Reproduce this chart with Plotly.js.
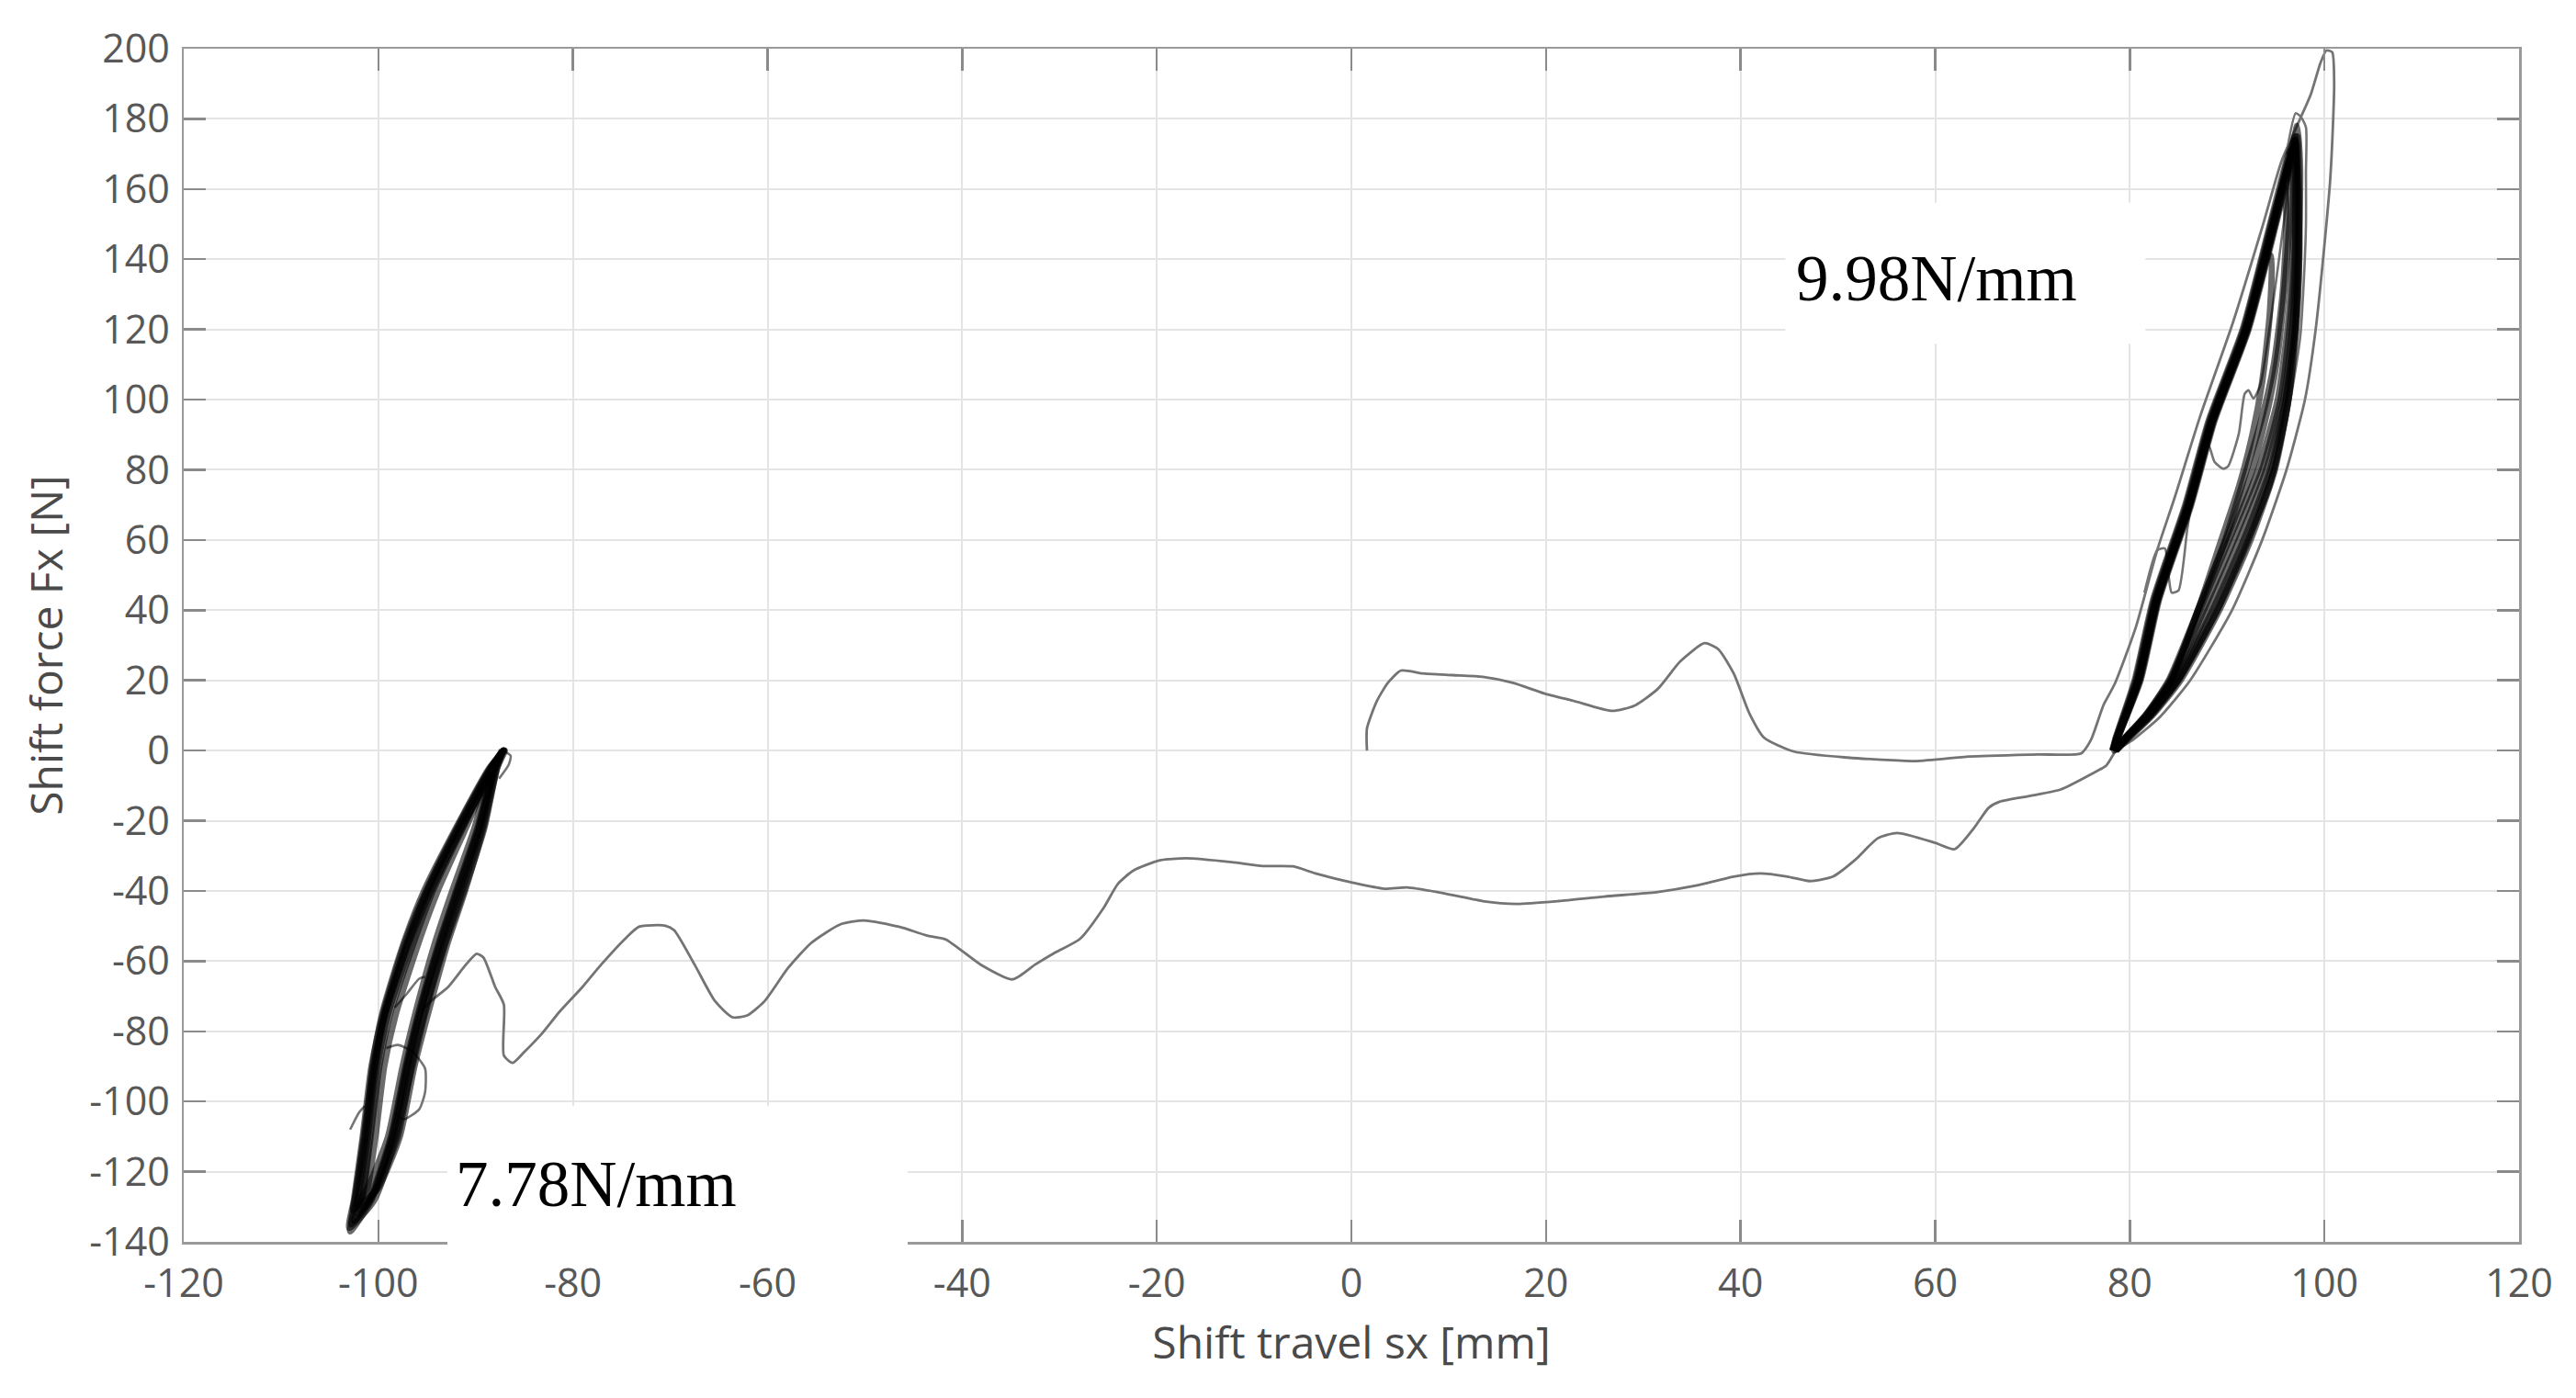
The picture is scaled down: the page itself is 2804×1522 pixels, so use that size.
<!DOCTYPE html>
<html><head><meta charset="utf-8">
<script src="https://cdn.plot.ly/plotly-3.0.1.min.js"></script>
<style>html,body{margin:0;padding:0;background:#fff;}#chart{width:2804px;height:1522px;}</style>
</head><body><div id="chart"></div>
<script>
// ---------- axis ticks ----------
const xTicks = [-120,-100,-80,-60,-40,-20,0,20,40,60,80,100,120];
const yTicks = [-140,-120,-100,-80,-60,-40,-20,0,20,40,60,80,100,120,140,160,180,200];

// ---------- single gray path: start near origin, outer right loop, return, to left cluster ----------
const pathX = [1.6,1.6,2.6,3.75,5.1,7.3,10.4,13.5,16.6,19.8,22.9,26.8,29.1,31.5,33.8,36.3,37.7,39.3,40.9,42.4,45.5,51,58,63.5,70.5,75,76,77.3,78.45,80.6,82.8,84.6,87.2,90.6,93.7,95.6,97.5,98.6,99.6,100.2,100.8,101.0,100.9,100.6,100.2,99.1,98.0,96.1,93.6,90.5,86.2,83.1,80.3,78.6,77.6,76,72.9,69.8,66.6,65.5,63.9,62,60,56.1,54.1,51.8,49.5,47.1,44.8,42,39.3,35.4,31.5,26,21.3,17,13.5,8.8,5.7,3.4,0.2,-3.7,-6,-9.1,-12.3,-17,-19.7,-22.4,-24,-25.5,-27.9,-30.4,-32.5,-34.8,-38.1,-41.7,-43.5,-46.5,-50.1,-52.5,-55.5,-57.9,-60.3,-62.1,-63.6,-65.4,-67.5,-69.6,-70.5,-73.2,-74.7,-77.1,-79,-81.4,-83.2,-85,-86.2,-87.1,-87.1,-88,-89.2,-89.9,-91,-92.8,-94.6,-95.5];
const pathY = [0,6.3,14,19.3,22.8,22,21.5,21,19.3,16.3,14.1,11.3,12.8,17.6,25.4,30.6,28.9,21.9,10.6,3.7,-0.3,-2,-3,-1.7,-1.1,-0.8,3,13,19,35,57,72,95,122,150,168,180,187,196,199.5,199,190,180,163,150,120,100,80,60,40,20,9.6,3,0,-4.2,-6.8,-11.1,-12.9,-14.6,-16.3,-22.4,-28.1,-26.3,-23.5,-25,-31.1,-35.9,-37.2,-35.9,-35,-35.9,-38.5,-40.3,-41.6,-42.9,-43.7,-42.9,-40.3,-39,-39.4,-37.7,-35,-33,-32.9,-31.8,-30.7,-31.3,-34.2,-38,-45,-53.7,-57.5,-61,-65.2,-61,-53.8,-52.8,-50.2,-48.4,-49.5,-54.8,-62,-71.4,-75.5,-76,-71.4,-61,-51.2,-49.9,-50.2,-53.8,-61,-67.3,-74.5,-80.7,-85.9,-89,-86.9,-72.4,-67.3,-59,-57.9,-61,-67.3,-71.4,-74];

// ---------- extra thin gray strokes in the right cluster ----------
const notchAx = [87.6,88.1,88.7,89.6,90.1,91.2,91.8,92.2,92.7,93.4,94.6,95.8,96.6];
const notchAy = [85,87,82.3,80.3,81,90.3,101.6,102.7,100.3,104,125,150,168];
const notchBx = [81.5,82.8,83.6,84.0,84.3,85.0,85.9,86.2,87.0];
const notchBy = [45,57,57.6,49.6,45,45.6,63,68,78];
const loop2x = [96.1,97.05,97.6,98.1,98.1,98.1,97.9,97.5,96.1,94.5,92.3,89.2,85.2,82.3,79.6,78.6];
const loop2y = [170,181.6,180.5,177.6,165,150,135,117.6,93.6,75,60,40,20,10,3,0];

// ---------- right cluster dense loops (black) ----------
const r1x = [78.3,78.5,80.5,82.4,85.7,88.1,91.6,94.6,96.3,96.9,97.3,97.4,97.1,96.3,94.8,92.2,89.0,85.0,82.2,79.6,78.6];
const r1y = [0,3,20,43,70,94,120,152,170,174,160,140,120,100,80,60,40,20,10,3,0];
const r2x = [78.2,78.6,80.8,82.7,86.0,88.4,91.9,94.9,96.5,97.0,97.0,97.0,96.7,95.8,94.0,91.2,88.0,84.5,81.8,79.4,78.4];
const r2y = [0,3,20,43,70,94,120,152,170,175,160,140,120,100,80,60,40,20,10,3,0];
const r3x = [78.4,78.7,81.1,83.0,86.3,88.7,92.2,95.2,96.8,97.1,97.2,97.2,96.9,96.0,94.4,91.7,88.5,84.7,82.0,79.5,78.5];
const r3y = [0,3,20,43,70,94,120,152,170,173,160,140,120,100,80,60,40,20,10,3,0];
const r4x = [78.3,78.6,80.7,82.6,85.9,88.3,91.8,94.8,96.4,96.8,96.8,96.7,96.2,95.2,93.2,90.2,87.2,84.1,81.6,79.3,78.4];
const r4y = [0,3,20,43,70,94,120,152,170,172,160,140,120,100,80,60,40,20,10,3,0];
const r5x = [78.4,78.7,81.0,82.9,86.2,88.6,92.1,95.1,95.9,96.1,95.7,94.8,93.6,92.0,89.8,87.0,84.2,81.7,79.3,78.4];
const r5y = [0,3,20,43,70,94,120,152,161,150,130,110,95,80,60,40,20,10,3,0];
const r6x = [78.3,78.6,80.9,82.8,86.1,88.5,92.0,93.9,94.5,94.4,93.6,92.6,91.2,89.4,87.0,84.3,81.8,79.4,78.5];
const r6y = [0,3,20,43,70,94,120,140,141,125,105,90,75,60,40,20,10,3,0];
const r7x = [78.2,78.5,80.6,82.5,85.8,88.2,91.7,94.7,96.6,97.2,97.5,97.3,97.0,96.1,94.6,91.9,88.7,84.9,82.1,79.5,78.5];
const r7y = [0,3,20,43,70,94,120,152,170,178,165,140,120,100,80,60,40,20,10,3,0];
const r8x = [78.35,78.6,80.9,82.8,86.1,88.5,92.0,95.0,96.6,97.0,97.1,96.9,96.4,95.5,93.6,90.7,87.6,84.3,81.7,79.4,78.4];
const r8y = [0,3,20,43,70,94,120,152,170,174,160,140,120,100,80,60,40,20,10,3,0];
const r9x = [78.3,78.6,80.8,82.7,86.0,88.4,91.9,94.9,96.4,96.5,96.0,95.3,94.4,92.6,89.9,87.0,84.0,81.6,79.3,78.4];
const r9y = [0,3,20,43,70,94,120,152,168,155,135,115,100,80,60,40,20,10,3,0];
const r10x = [78.3,78.7,81.0,82.9,86.2,88.6,92.1,95.1,96.7,97.2,97.4,97.4,97.0,96.3,94.9,92.4,89.2,85.2,82.3,79.7,78.6];
const r10y = [0,3,20,43,70,94,120,152,170,175,160,140,120,100,80,60,40,20,10,3,0];

// ---------- left cluster dense loops (black) ----------
const l1x = [-87.2,-88.4,-91.8,-95.0,-97.1,-99.4,-100.4,-101.3,-102.2,-102.9,-100.7,-98.5,-97.0,-95.7,-93.6,-91.8,-89.6,-88.1,-87.2];
const l1y = [0,-5,-22,-40,-55,-75,-90,-110,-128,-137,-128,-110,-90,-75,-55,-40,-22,-5,0];
const l2x = [-87.3,-88.2,-91.4,-94.6,-96.6,-99.0,-100.1,-100.9,-101.8,-102.5,-100.9,-98.7,-97.2,-95.9,-93.8,-92.0,-89.8,-88.2,-87.3];
const l2y = [0,-5,-22,-40,-55,-75,-90,-110,-128,-134,-128,-110,-90,-75,-55,-40,-22,-5,0];
const l3x = [-87.1,-88.6,-92.0,-95.3,-97.4,-99.6,-100.6,-101.4,-102.3,-102.6,-101.0,-99.0,-97.5,-96.2,-94.2,-92.4,-90.1,-88.4,-87.1];
const l3y = [0,-5,-22,-40,-55,-75,-90,-110,-126,-131,-124,-110,-90,-75,-55,-40,-22,-5,0];
const l4x = [-87.2,-88.3,-91.0,-93.9,-95.9,-98.2,-99.4,-100.3,-101.2,-101.9,-100.2,-98.0,-96.6,-95.3,-93.2,-91.4,-89.3,-87.9,-87.2];
const l4y = [0,-5,-22,-40,-55,-75,-90,-110,-126,-131,-125,-110,-90,-75,-55,-40,-22,-5,0];
const l5x = [-87.0,-88.5,-91.9,-95.1,-97.3,-99.5,-100.7,-101.6,-102.5,-103.0,-100.4,-98.2,-96.5,-95.2,-93.1,-91.2,-89.1,-87.8,-87.0];
const l5y = [0,-5,-22,-40,-55,-75,-90,-110,-128,-136,-128,-110,-90,-75,-55,-40,-22,-5,0];
const l6x = [-87.2,-88.1,-91.5,-94.6,-96.9,-99.3,-100.3,-101.1,-101.9,-102.2,-100.1,-97.8,-96.3,-94.9,-92.9,-91.1,-89.2,-87.8,-87.2];
const l6y = [0,-5,-22,-40,-55,-75,-90,-110,-126,-130,-125,-110,-90,-75,-55,-40,-22,-5,0];
const l7x = [-87.2,-88.5,-91.7,-94.9,-97.0,-99.3,-100.5,-101.5,-102.4,-102.8,-100.8,-98.6,-97.1,-95.8,-93.7,-91.9,-89.7,-88.1,-87.2];
const l7y = [0,-5,-22,-40,-55,-75,-90,-110,-128,-135,-128,-110,-90,-75,-55,-40,-22,-5,0];
const l8x = [-87.1,-88.3,-91.3,-94.4,-96.4,-98.8,-99.9,-100.8,-101.6,-102.1,-100.6,-98.4,-96.9,-95.6,-93.5,-91.7,-89.5,-88.0,-87.1];
const l8y = [0,-5,-22,-40,-55,-75,-90,-110,-127,-132,-126,-110,-90,-75,-55,-40,-22,-5,0];

// ---------- thin gray strokes in left cluster ----------
const lCircX = [-99.2,-98.0,-96.5,-95.2,-95.2,-95.8,-97.4,-98.3];
const lCircY = [-84.8,-83.9,-85.8,-90.6,-97.4,-102.2,-105.1,-103.2];
const lTickX = [-102.9,-102.0,-101.4];
const lTickY = [-108,-103.2,-101.3];
const lArcX = [-98.3,-97.1,-95.8,-95.2];
const lArcY = [-73.2,-69.4,-65,-64.5];
const lTopX = [-87.2,-86.4,-86.6,-87.6];
const lTopY = [0,-1.5,-4,-8];

// ---------- labels ----------
const labelRight = {text:'9.98N/mm', x:60.1, y:134.5};
const labelLeft  = {text:'7.78N/mm', x:-77.6, y:-123.5};

const GRAY = '#747474';
const traces = [];
function addLine(x, y, color, width){
  traces.push({type:'scatter', mode:'lines', x:x, y:y, line:{color:color, width:width, shape:'spline', smoothing:0.6}, hoverinfo:'skip', showlegend:false});
}
addLine(pathX, pathY, GRAY, 2.8);
addLine(notchAx, notchAy, GRAY, 2.6);
addLine(notchBx, notchBy, GRAY, 2.6);
addLine(loop2x, loop2y, GRAY, 2.6);
addLine(lCircX, lCircY, GRAY, 2.6);
addLine(lTickX, lTickY, GRAY, 2.6);
addLine(lArcX, lArcY, GRAY, 2.6);
addLine(lTopX, lTopY, GRAY, 2.6);
const BLK = 'rgba(0,0,0,0.58)';
[[r1x,r1y],[r2x,r2y],[r3x,r3y],[r4x,r4y],[r5x,r5y],[r6x,r6y],[r7x,r7y],[r8x,r8y],[r9x,r9y],[r10x,r10y],
 [l1x,l1y],[l2x,l2y],[l3x,l3y],[l4x,l4y],[l5x,l5y],[l6x,l6y],[l7x,l7y],[l8x,l8y]].forEach(p=>addLine(p[0],p[1],BLK,7));

// paper-coordinate helpers for the white label boxes
const XR=[-120,120], YR=[-140,200];
const px = v => (v-XR[0])/(XR[1]-XR[0]);
const py = v => (v-YR[0])/(YR[1]-YR[0]);

const tickFont = {family:'Open Sans, Noto Sans, sans-serif', size:43, color:'#585858'};
const titleFont = {family:'Open Sans, Noto Sans, sans-serif', size:48, color:'#4a4a4a'};
const axisCommon = {
  ticks:'inside', ticklen:24, tickwidth:2.5, tickcolor:'#8a8a8a',
  showline:true, linecolor:'#9a9a9a', linewidth:2.5, mirror:'ticks',
  showgrid:true, gridcolor:'#e4e4e4', gridwidth:2, zeroline:false,
  tickfont:tickFont, fixedrange:true
};
const layout = {
  width:2804, height:1522,
  margin:{l:200, r:62, t:53, b:170},
  paper_bgcolor:'#ffffff', plot_bgcolor:'#ffffff',
  showlegend:false,
  xaxis: Object.assign({}, axisCommon, {range:XR, tickvals:xTicks, ticktext:xTicks.map(String), ticklabelstandoff:6,
    title:{text:'Shift travel sx [mm]', font:titleFont, standoff:22}}),
  yaxis: Object.assign({}, axisCommon, {range:YR, tickvals:yTicks, ticktext:yTicks.map(String), ticklabelstandoff:4,
    title:{text:'Shift force Fx [N]', font:titleFont, standoff:14}}),
  shapes:[
    {type:'line', xref:'x', yref:'paper', x0:0, x1:0, y0:0, y1:1, layer:'between',
     line:{color:'#555555', width:2, dash:'16px,6px,3px,6px'}},
    {type:'line', xref:'paper', yref:'y', x0:0, x1:1, y0:0, y1:0, layer:'between',
     line:{color:'#555555', width:2, dash:'16px,6px,3px,6px'}},
    {type:'rect', xref:'paper', yref:'paper', x0:px(44.6), x1:px(81.6), y0:py(115.9), y1:py(156.1),
     fillcolor:'#ffffff', line:{width:0}, layer:'above'},
    {type:'rect', xref:'paper', yref:'paper', x0:px(-92.9), x1:px(-45.6), y0:py(-143), y1:py(-101.3),
     fillcolor:'#ffffff', line:{width:0}, layer:'above'}
  ],
  annotations:[
    {x:labelRight.x, y:labelRight.y, xref:'x', yref:'y', text:labelRight.text, showarrow:false,
     font:{family:'Liberation Serif, Times New Roman, serif', size:71, color:'#000'}, xanchor:'center', yanchor:'middle'},
    {x:labelLeft.x, y:labelLeft.y, xref:'x', yref:'y', text:labelLeft.text, showarrow:false,
     font:{family:'Liberation Serif, Times New Roman, serif', size:71, color:'#000'}, xanchor:'center', yanchor:'middle'}
  ]
};
Plotly.newPlot('chart', traces, layout, {displayModeBar:false, staticPlot:true});
</script></body></html>
